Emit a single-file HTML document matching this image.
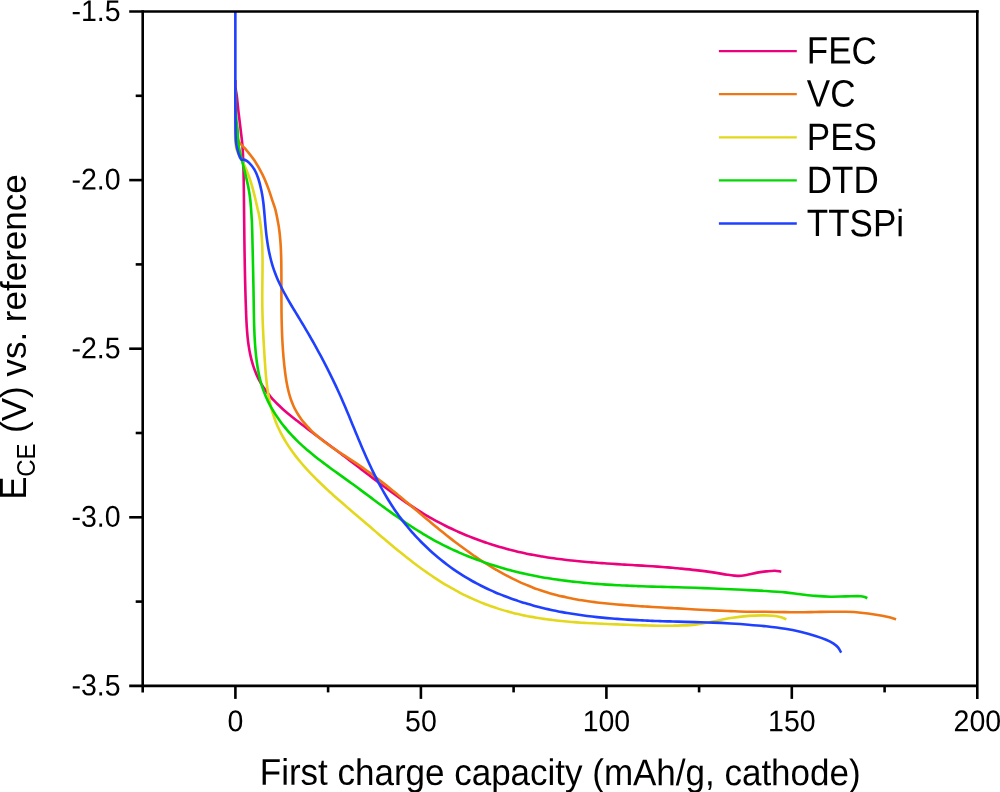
<!DOCTYPE html>
<html lang="en"><head><meta charset="utf-8"><title>First charge capacity</title>
<style>html,body{margin:0;padding:0;background:#fff;}body{width:1000px;height:792px;overflow:hidden;}svg{display:block;}text{font-family:"Liberation Sans",sans-serif;fill:#000;}</style></head><body>
<svg width="1000" height="792" viewBox="0 0 1000 792">
<rect width="1000" height="792" fill="#fff"/>
<g fill="none" stroke-width="2.6" stroke-linejoin="round" stroke-linecap="butt">
<path stroke="#ED007C" d="M235.35 80.00C235.35 81.33 235.33 82.67 235.35 84.00C235.37 85.17 235.31 86.34 235.45 87.50C235.76 90.02 236.39 92.48 236.70 95.00C237.40 100.65 237.85 106.34 238.50 112.00C239.19 118.01 239.99 124.00 240.70 130.00C241.29 135.06 241.98 140.12 242.40 145.20C242.81 150.22 243.01 155.26 243.20 160.30C243.45 167.03 243.58 173.77 243.70 180.50C243.85 188.67 243.90 196.83 244.00 205.00C244.14 216.79 244.26 228.58 244.40 240.36C244.42 242.05 244.45 243.73 244.47 245.41C244.49 247.10 244.52 248.78 244.54 250.46C244.57 252.15 244.60 253.83 244.62 255.51C244.65 257.20 244.68 258.88 244.71 260.57C244.74 262.25 244.77 263.94 244.80 265.63C244.83 267.31 244.86 269.00 244.90 270.69C244.93 272.38 244.97 274.07 245.00 275.76C245.04 277.45 245.08 279.14 245.12 280.83C245.16 282.52 245.20 284.22 245.25 285.91C245.29 287.61 245.33 289.30 245.38 291.00C245.43 292.70 245.48 294.40 245.53 296.09C245.58 297.80 245.63 299.50 245.68 301.20C245.74 302.91 245.80 304.61 245.85 306.32C245.91 308.02 245.97 309.73 246.04 311.44C246.10 313.15 246.16 314.86 246.24 316.58C246.31 318.29 246.39 320.00 246.48 321.71C246.56 323.42 246.66 325.13 246.77 326.84C246.88 328.54 247.00 330.24 247.14 331.95C247.27 333.64 247.42 335.34 247.60 337.03C247.77 338.71 247.96 340.39 248.17 342.07C248.38 343.74 248.62 345.41 248.88 347.08C249.14 348.73 249.42 350.38 249.74 352.02C250.05 353.66 250.39 355.29 250.77 356.91C251.14 358.52 251.54 360.13 251.99 361.72C252.43 363.31 252.90 364.89 253.41 366.45C253.93 368.01 254.48 369.56 255.07 371.09C255.67 372.62 256.30 374.14 256.98 375.63C257.66 377.13 258.38 378.61 259.15 380.06C259.93 381.53 260.75 382.97 261.61 384.38C262.47 385.80 263.38 387.20 264.33 388.57C265.28 389.95 266.27 391.31 267.29 392.64C268.32 393.98 269.39 395.29 270.48 396.58C271.57 397.87 272.70 399.14 273.86 400.38C275.01 401.63 276.20 402.85 277.41 404.04C278.62 405.24 279.85 406.42 281.11 407.57C282.36 408.72 283.64 409.85 284.93 410.96C286.22 412.07 287.53 413.16 288.84 414.24C290.16 415.32 291.48 416.39 292.82 417.45C294.14 418.51 295.48 419.55 296.82 420.60C298.15 421.64 299.49 422.68 300.83 423.72C302.17 424.75 303.52 425.78 304.86 426.81C306.20 427.83 307.55 428.85 308.90 429.87C310.24 430.89 311.59 431.90 312.94 432.91C314.29 433.93 315.64 434.93 316.99 435.94C318.34 436.95 319.69 437.95 321.04 438.96C322.39 439.96 323.74 440.96 325.10 441.96C326.45 442.97 327.80 443.97 329.15 444.97C330.50 445.97 331.85 446.97 333.20 447.97C334.55 448.98 335.90 449.98 337.25 450.99C338.60 451.99 339.95 453.00 341.30 454.01C342.65 455.02 343.99 456.03 345.34 457.05C346.68 458.06 348.02 459.08 349.37 460.10C350.71 461.13 352.05 462.15 353.39 463.18C354.73 464.21 356.07 465.23 357.41 466.26C358.75 467.29 360.09 468.33 361.43 469.36C362.77 470.39 364.11 471.42 365.45 472.45C366.79 473.49 368.13 474.52 369.47 475.55C370.81 476.58 372.15 477.61 373.50 478.64C374.84 479.66 376.19 480.69 377.54 481.71C378.88 482.74 380.23 483.76 381.58 484.77C382.94 485.79 384.29 486.81 385.65 487.81C387.00 488.82 388.36 489.83 389.73 490.83C391.09 491.83 392.46 492.83 393.83 493.82C395.20 494.81 396.57 495.79 397.95 496.77C399.32 497.75 400.70 498.72 402.09 499.69C403.48 500.65 404.87 501.61 406.26 502.56C407.66 503.51 409.06 504.45 410.46 505.38C411.87 506.32 413.28 507.24 414.70 508.15C416.11 509.07 417.53 509.97 418.96 510.87C420.39 511.76 421.82 512.65 423.27 513.52C424.71 514.40 426.16 515.26 427.61 516.11C429.07 516.96 430.53 517.80 432.00 518.63C433.47 519.45 434.94 520.27 436.43 521.07C437.91 521.87 439.40 522.66 440.90 523.44C442.39 524.22 443.90 524.98 445.41 525.74C446.92 526.49 448.43 527.23 449.96 527.96C451.48 528.69 453.01 529.41 454.54 530.11C456.08 530.82 457.62 531.51 459.17 532.19C460.71 532.87 462.26 533.54 463.82 534.19C465.38 534.85 466.94 535.49 468.51 536.12C470.08 536.75 471.65 537.37 473.22 537.98C474.80 538.59 476.38 539.18 477.97 539.77C479.56 540.35 481.15 540.92 482.74 541.48C484.34 542.04 485.94 542.59 487.54 543.12C489.15 543.66 490.75 544.18 492.36 544.69C493.98 545.20 495.59 545.70 497.21 546.18C498.83 546.67 500.45 547.15 502.07 547.61C503.70 548.07 505.33 548.52 506.96 548.96C508.59 549.40 510.22 549.83 511.86 550.24C513.49 550.66 515.13 551.06 516.77 551.45C518.41 551.84 520.06 552.22 521.70 552.59C523.35 552.95 524.99 553.31 526.64 553.65C528.29 554.00 529.94 554.33 531.60 554.65C533.25 554.97 534.90 555.28 536.56 555.58C538.22 555.88 539.87 556.16 541.53 556.44C543.19 556.72 544.85 556.99 546.52 557.25C548.18 557.51 549.84 557.75 551.51 557.99C553.17 558.24 554.84 558.47 556.51 558.69C558.18 558.91 559.85 559.13 561.52 559.33C563.19 559.54 564.86 559.74 566.53 559.93C568.20 560.13 569.88 560.31 571.55 560.49C573.23 560.67 574.90 560.84 576.58 561.00C578.26 561.17 579.94 561.33 581.62 561.48C583.30 561.64 584.98 561.79 586.66 561.93C588.34 562.08 590.02 562.21 591.70 562.35C593.38 562.48 595.07 562.61 596.75 562.74C598.43 562.87 600.12 562.99 601.80 563.11C603.49 563.23 605.17 563.35 606.86 563.46C608.54 563.57 610.23 563.68 611.92 563.79C613.60 563.90 615.29 564.01 616.98 564.11C618.66 564.22 620.35 564.32 622.04 564.43C623.73 564.53 625.41 564.63 627.10 564.73C628.79 564.84 630.48 564.94 632.17 565.04C633.86 565.14 635.54 565.24 637.23 565.34C638.92 565.45 640.61 565.55 642.30 565.65C643.98 565.76 645.67 565.86 647.36 565.97C649.05 566.08 650.74 566.19 652.42 566.30C654.11 566.42 655.80 566.53 657.48 566.65C659.17 566.77 660.86 566.89 662.54 567.01C664.23 567.14 665.91 567.26 667.60 567.40C669.28 567.53 670.97 567.66 672.65 567.81C674.33 567.95 676.02 568.07 677.70 568.24C683.60 568.84 689.51 569.41 695.40 570.10C701.28 570.79 707.14 571.55 713.00 572.40C717.75 573.09 722.46 573.98 727.20 574.70C729.53 575.05 731.85 575.42 734.20 575.60C736.56 575.78 738.94 575.98 741.30 575.80C743.70 575.61 746.04 574.97 748.40 574.50C751.34 573.91 754.24 573.12 757.20 572.60C760.15 572.08 763.12 571.72 766.10 571.40C769.03 571.09 771.96 570.64 774.90 570.70C777.06 570.74 779.17 571.37 781.30 571.70"/>
<path stroke="#EE7614" d="M235.35 90.00C235.35 92.00 235.35 94.00 235.35 96.00C235.35 97.33 235.32 98.67 235.35 100.00C235.51 108.33 235.47 116.68 235.90 125.00C236.09 128.69 236.52 132.37 237.20 136.00C237.59 138.09 237.96 140.30 239.10 142.10C240.70 144.63 243.28 146.40 245.20 148.70C248.35 152.47 251.57 156.22 254.30 160.30C257.31 164.80 259.98 169.55 262.40 174.40C264.69 179.00 266.57 183.80 268.40 188.60C269.87 192.47 271.00 196.47 272.30 200.40C273.37 203.63 274.67 206.80 275.50 210.10C276.76 215.10 277.61 220.20 278.56 225.27C278.87 226.93 279.06 228.60 279.27 230.27C279.49 231.94 279.68 233.61 279.86 235.29C280.03 236.97 280.18 238.65 280.32 240.33C280.45 242.02 280.57 243.71 280.68 245.39C280.78 247.08 280.87 248.77 280.94 250.47C281.02 252.16 281.08 253.85 281.13 255.55C281.18 257.24 281.22 258.94 281.26 260.63C281.29 262.33 281.31 264.03 281.33 265.72C281.35 267.42 281.36 269.11 281.37 270.81C281.38 272.50 281.39 274.20 281.39 275.89C281.40 277.58 281.40 279.27 281.40 280.96C281.40 282.65 281.40 284.34 281.41 286.03C281.41 287.72 281.41 289.40 281.41 291.09C281.41 292.77 281.41 294.46 281.42 296.14C281.42 297.82 281.43 299.50 281.44 301.19C281.44 302.87 281.45 304.55 281.47 306.23C281.48 307.91 281.50 309.59 281.51 311.26C281.53 312.94 281.56 314.62 281.58 316.30C281.61 317.98 281.64 319.65 281.68 321.33C281.72 323.01 281.76 324.69 281.81 326.36C281.86 328.04 281.91 329.72 281.97 331.39C282.03 333.07 282.10 334.75 282.17 336.42C282.24 338.10 282.32 339.78 282.41 341.45C282.50 343.13 282.60 344.81 282.71 346.49C282.81 348.17 282.93 349.84 283.05 351.52C283.18 353.20 283.31 354.88 283.45 356.56C283.60 358.24 283.75 359.92 283.92 361.60C284.08 363.29 284.26 364.97 284.45 366.65C284.64 368.34 284.83 370.02 285.05 371.71C285.26 373.39 285.48 375.08 285.73 376.76C285.98 378.44 286.24 380.12 286.53 381.79C286.82 383.46 287.14 385.13 287.48 386.79C287.83 388.44 288.21 390.08 288.62 391.72C289.04 393.35 289.48 394.97 289.98 396.57C290.47 398.17 291.00 399.76 291.59 401.32C292.17 402.88 292.80 404.43 293.49 405.95C294.18 407.47 294.91 408.97 295.71 410.44C296.51 411.91 297.36 413.36 298.26 414.77C299.17 416.19 300.12 417.57 301.11 418.93C302.11 420.29 303.15 421.62 304.22 422.91C305.29 424.21 306.40 425.47 307.54 426.71C308.68 427.94 309.85 429.15 311.04 430.32C312.23 431.50 313.46 432.65 314.70 433.77C315.95 434.89 317.22 435.99 318.50 437.07C319.79 438.14 321.11 439.20 322.43 440.23C323.76 441.27 325.11 442.29 326.46 443.29C327.82 444.30 329.20 445.28 330.58 446.26C331.97 447.23 333.37 448.20 334.77 449.15C336.18 450.11 337.59 451.05 339.01 451.99C340.43 452.93 341.85 453.86 343.28 454.79C344.70 455.73 346.13 456.65 347.56 457.58C348.99 458.51 350.42 459.44 351.84 460.38C353.26 461.31 354.68 462.25 356.10 463.19C357.51 464.14 358.91 465.09 360.31 466.05C361.71 467.01 363.09 467.98 364.48 468.95C365.85 469.93 367.23 470.91 368.59 471.91C369.96 472.90 371.32 473.90 372.67 474.90C374.02 475.91 375.36 476.92 376.70 477.94C378.04 478.96 379.38 479.98 380.70 481.01C382.03 482.04 383.35 483.08 384.67 484.12C385.99 485.16 387.30 486.20 388.61 487.25C389.92 488.30 391.22 489.36 392.53 490.42C393.83 491.47 395.12 492.54 396.42 493.60C397.71 494.67 399.01 495.73 400.30 496.80C401.58 497.87 402.87 498.95 404.16 500.02C405.44 501.10 406.73 502.18 408.01 503.26C409.29 504.33 410.57 505.42 411.86 506.50C413.14 507.58 414.42 508.66 415.70 509.74C416.98 510.82 418.26 511.91 419.54 512.99C420.83 514.07 422.11 515.15 423.39 516.23C424.68 517.32 425.96 518.40 427.25 519.47C428.54 520.55 429.83 521.63 431.12 522.71C432.41 523.78 433.71 524.85 435.01 525.92C436.31 527.00 437.61 528.06 438.91 529.13C440.22 530.19 441.53 531.26 442.84 532.31C444.15 533.37 445.47 534.43 446.79 535.47C448.12 536.52 449.45 537.57 450.78 538.61C452.11 539.65 453.45 540.69 454.80 541.71C456.14 542.74 457.49 543.77 458.85 544.79C460.21 545.80 461.57 546.81 462.94 547.82C464.31 548.82 465.68 549.82 467.06 550.81C468.44 551.80 469.82 552.78 471.21 553.75C472.61 554.72 474.00 555.69 475.41 556.64C476.81 557.60 478.22 558.55 479.63 559.48C481.05 560.42 482.47 561.34 483.90 562.26C485.32 563.17 486.75 564.08 488.19 564.97C489.63 565.87 491.08 566.75 492.53 567.62C493.98 568.49 495.43 569.35 496.90 570.19C498.36 571.04 499.83 571.87 501.31 572.69C502.78 573.51 504.26 574.31 505.75 575.10C507.24 575.90 508.73 576.67 510.23 577.44C511.73 578.20 513.24 578.95 514.75 579.68C516.26 580.41 517.78 581.12 519.31 581.83C520.83 582.52 522.36 583.21 523.90 583.88C525.44 584.54 526.98 585.19 528.53 585.82C530.08 586.45 531.64 587.07 533.20 587.66C534.77 588.26 536.34 588.84 537.91 589.40C539.49 589.95 541.07 590.49 542.66 591.01C544.25 591.53 545.85 592.03 547.45 592.51C549.05 593.00 550.66 593.46 552.27 593.91C553.88 594.36 555.50 594.78 557.13 595.20C558.75 595.61 560.38 596.01 562.01 596.39C563.65 596.77 565.28 597.14 566.93 597.49C568.57 597.84 570.22 598.18 571.87 598.50C573.52 598.82 575.17 599.13 576.83 599.43C578.49 599.73 580.15 600.01 581.81 600.28C583.48 600.55 585.15 600.81 586.82 601.06C588.49 601.31 590.16 601.54 591.84 601.77C593.52 602.00 595.19 602.21 596.87 602.42C598.56 602.63 600.24 602.82 601.92 603.01C603.61 603.20 605.29 603.38 606.98 603.55C608.67 603.73 610.35 603.89 612.04 604.05C613.73 604.21 615.42 604.36 617.11 604.50C618.80 604.65 620.49 604.79 622.18 604.92C623.87 605.05 625.56 605.18 627.26 605.31C628.95 605.43 630.64 605.55 632.33 605.67C634.01 605.79 635.70 605.90 637.39 606.01C639.08 606.12 640.76 606.23 642.45 606.34C644.13 606.44 645.82 606.55 647.50 606.65C649.18 606.75 650.86 606.86 652.55 606.96C654.23 607.06 655.91 607.16 657.59 607.25C659.26 607.35 660.94 607.45 662.62 607.55C664.30 607.64 665.97 607.74 667.65 607.83C669.33 607.93 671.01 608.02 672.68 608.12C674.36 608.21 676.04 608.29 677.71 608.40C683.61 608.76 689.50 609.17 695.40 609.50C701.26 609.83 707.13 610.13 713.00 610.40C718.90 610.67 724.80 610.88 730.70 611.10C736.60 611.32 742.50 611.58 748.40 611.70C754.30 611.82 760.20 611.74 766.10 611.80C772.47 611.87 778.83 612.01 785.20 612.10C790.23 612.17 795.27 612.32 800.30 612.30C805.37 612.28 810.43 612.10 815.50 612.00C820.53 611.90 825.57 611.73 830.60 611.70C835.67 611.67 840.74 611.63 845.80 611.80C850.84 611.97 855.88 612.22 860.90 612.70C865.99 613.19 871.05 613.90 876.10 614.70C880.16 615.34 884.19 616.10 888.20 617.00C890.87 617.60 893.47 618.47 896.10 619.20"/>
<path stroke="#E3D81C" d="M235.35 90.00C235.35 92.00 235.35 94.00 235.35 96.00C235.35 97.33 235.36 98.67 235.35 100.00C235.31 110.00 235.21 120.00 235.20 130.00C235.20 133.33 235.12 136.67 235.30 140.00C235.45 142.68 235.62 145.38 236.20 148.00C236.66 150.08 237.53 152.06 238.40 154.00C239.27 155.93 240.44 157.71 241.40 159.60C243.21 163.18 245.17 166.70 246.70 170.40C248.47 174.68 249.95 179.07 251.30 183.50C252.82 188.51 254.04 193.61 255.30 198.70C256.21 202.38 256.94 206.11 257.80 209.80C258.06 210.92 258.43 212.01 258.67 213.13C259.02 214.77 259.31 216.42 259.59 218.08C259.87 219.73 260.11 221.39 260.34 223.06C260.57 224.72 260.77 226.39 260.95 228.06C261.13 229.73 261.29 231.40 261.44 233.07C261.58 234.75 261.71 236.43 261.82 238.10C261.93 239.78 262.03 241.46 262.11 243.15C262.19 244.83 262.26 246.51 262.31 248.20C262.37 249.89 262.41 251.57 262.44 253.26C262.48 254.95 262.50 256.64 262.52 258.33C262.53 260.02 262.54 261.71 262.54 263.40C262.54 265.10 262.53 266.79 262.52 268.48C262.51 270.17 262.50 271.87 262.48 273.56C262.46 275.25 262.44 276.94 262.42 278.64C262.40 280.33 262.38 282.02 262.36 283.71C262.34 285.40 262.32 287.10 262.30 288.79C262.29 290.48 262.27 292.17 262.27 293.85C262.26 295.54 262.26 297.23 262.26 298.92C262.26 300.60 262.27 302.28 262.29 303.97C262.31 305.65 262.33 307.33 262.37 309.01C262.40 310.69 262.43 312.37 262.48 314.05C262.52 315.73 262.57 317.40 262.63 319.08C262.68 320.76 262.74 322.43 262.81 324.11C262.87 325.78 262.94 327.46 263.02 329.14C263.09 330.81 263.17 332.49 263.25 334.16C263.34 335.84 263.43 337.52 263.52 339.19C263.61 340.87 263.70 342.55 263.80 344.23C263.89 345.91 263.99 347.58 264.09 349.26C264.20 350.95 264.30 352.63 264.41 354.31C264.51 355.99 264.62 357.68 264.73 359.36C264.84 361.05 264.95 362.74 265.07 364.42C265.19 366.11 265.31 367.80 265.44 369.49C265.57 371.17 265.71 372.86 265.86 374.55C266.01 376.23 266.16 377.91 266.34 379.60C266.52 381.28 266.70 382.95 266.91 384.63C267.11 386.30 267.33 387.98 267.58 389.64C267.82 391.31 268.08 392.97 268.37 394.63C268.65 396.28 268.96 397.94 269.29 399.58C269.63 401.23 269.98 402.86 270.37 404.50C270.76 406.13 271.18 407.75 271.62 409.36C272.07 410.98 272.55 412.59 273.07 414.18C273.58 415.78 274.13 417.37 274.71 418.94C275.29 420.52 275.90 422.08 276.54 423.64C277.19 425.19 277.86 426.73 278.57 428.26C279.27 429.79 280.00 431.30 280.77 432.80C281.53 434.30 282.32 435.78 283.14 437.25C283.96 438.72 284.81 440.17 285.68 441.61C286.55 443.04 287.45 444.46 288.37 445.87C289.30 447.27 290.25 448.66 291.21 450.03C292.18 451.41 293.17 452.77 294.18 454.11C295.20 455.46 296.23 456.79 297.28 458.10C298.33 459.42 299.39 460.72 300.48 462.02C301.56 463.31 302.66 464.58 303.77 465.85C304.88 467.12 306.01 468.37 307.15 469.61C308.29 470.86 309.44 472.09 310.60 473.31C311.76 474.53 312.93 475.74 314.11 476.94C315.29 478.14 316.48 479.33 317.68 480.52C318.88 481.70 320.09 482.87 321.30 484.04C322.51 485.20 323.74 486.36 324.96 487.51C326.19 488.66 327.43 489.80 328.67 490.94C329.91 492.08 331.16 493.21 332.41 494.33C333.66 495.46 334.92 496.58 336.18 497.69C337.44 498.81 338.70 499.92 339.97 501.03C341.24 502.14 342.51 503.24 343.79 504.34C345.06 505.44 346.34 506.54 347.62 507.64C348.90 508.73 350.18 509.83 351.46 510.92C352.74 512.01 354.02 513.11 355.31 514.20C356.59 515.29 357.87 516.38 359.15 517.48C360.43 518.57 361.71 519.66 362.99 520.76C364.27 521.85 365.55 522.95 366.83 524.05C368.11 525.14 369.39 526.24 370.66 527.34C371.94 528.44 373.22 529.53 374.50 530.63C375.77 531.72 377.05 532.82 378.33 533.91C379.61 535.01 380.89 536.10 382.17 537.19C383.45 538.28 384.74 539.37 386.02 540.46C387.31 541.54 388.59 542.63 389.88 543.71C391.17 544.79 392.46 545.86 393.76 546.94C395.05 548.01 396.35 549.08 397.65 550.14C398.95 551.21 400.26 552.27 401.57 553.32C402.88 554.38 404.19 555.43 405.51 556.47C406.82 557.52 408.14 558.56 409.47 559.59C410.80 560.62 412.13 561.65 413.47 562.67C414.80 563.69 416.15 564.70 417.49 565.70C418.84 566.71 420.20 567.71 421.56 568.69C422.92 569.68 424.29 570.66 425.66 571.64C427.04 572.61 428.42 573.57 429.80 574.52C431.19 575.48 432.59 576.42 433.99 577.35C435.39 578.28 436.80 579.21 438.22 580.11C439.64 581.02 441.06 581.92 442.50 582.81C443.93 583.69 445.37 584.57 446.82 585.42C448.27 586.28 449.73 587.13 451.20 587.96C452.67 588.79 454.14 589.61 455.62 590.41C457.11 591.22 458.60 592.00 460.10 592.78C461.60 593.55 463.11 594.31 464.62 595.05C466.13 595.80 467.66 596.53 469.18 597.24C470.71 597.95 472.25 598.65 473.79 599.34C475.33 600.02 476.88 600.69 478.44 601.34C479.99 601.99 481.55 602.62 483.12 603.24C484.69 603.86 486.26 604.46 487.84 605.05C489.42 605.64 491.00 606.21 492.59 606.76C494.18 607.31 495.78 607.85 497.38 608.37C498.97 608.89 500.58 609.39 502.19 609.88C503.79 610.36 505.41 610.83 507.02 611.28C508.64 611.73 510.26 612.17 511.88 612.59C513.51 613.00 515.13 613.41 516.77 613.79C518.40 614.18 520.03 614.55 521.67 614.91C523.31 615.26 524.95 615.60 526.60 615.93C528.24 616.26 529.89 616.57 531.54 616.87C533.19 617.18 534.85 617.46 536.50 617.74C538.16 618.01 539.82 618.28 541.48 618.53C543.14 618.78 544.81 619.02 546.47 619.25C548.14 619.47 549.81 619.69 551.48 619.90C553.15 620.11 554.82 620.30 556.50 620.49C558.17 620.68 559.85 620.86 561.53 621.03C563.21 621.20 564.89 621.36 566.57 621.51C568.25 621.66 569.93 621.81 571.61 621.94C573.30 622.08 574.98 622.21 576.67 622.33C578.35 622.46 580.04 622.57 581.73 622.68C583.42 622.80 585.10 622.90 586.79 623.00C588.48 623.10 590.17 623.20 591.86 623.29C593.55 623.38 595.24 623.47 596.93 623.55C598.62 623.63 600.31 623.71 601.99 623.79C603.68 623.87 605.37 623.94 607.06 624.01C608.75 624.08 610.44 624.15 612.13 624.22C613.81 624.29 615.50 624.36 617.19 624.42C618.87 624.49 620.56 624.55 622.24 624.62C623.93 624.69 625.61 624.75 627.29 624.82C628.98 624.88 630.66 624.94 632.34 625.01C634.02 625.07 635.70 625.13 637.38 625.18C639.06 625.24 640.74 625.29 642.42 625.35C644.10 625.40 645.78 625.44 647.46 625.49C649.13 625.53 650.81 625.57 652.49 625.60C654.17 625.63 655.85 625.66 657.53 625.68C659.21 625.70 660.89 625.72 662.57 625.73C664.25 625.73 665.93 625.74 667.61 625.73C669.29 625.72 670.97 625.71 672.65 625.69C674.33 625.66 676.02 625.67 677.70 625.59C683.60 625.31 689.53 625.26 695.40 624.60C701.31 623.93 707.15 622.69 713.00 621.60C718.92 620.49 724.76 618.96 730.70 618.00C736.57 617.06 742.48 616.38 748.40 615.90C753.09 615.52 757.80 615.44 762.50 615.40C766.03 615.37 769.58 615.38 773.10 615.70C775.50 615.92 777.88 616.37 780.20 617.00C782.33 617.58 784.33 618.53 786.40 619.30"/>
<path stroke="#00D800" d="M235.35 90.00C235.35 92.00 235.35 94.00 235.35 96.00C235.35 97.33 235.29 98.67 235.35 100.00C235.64 106.67 235.90 113.34 236.40 120.00C236.65 123.35 237.31 126.66 237.60 130.00C238.04 135.06 237.90 140.17 238.60 145.20C239.27 149.97 240.60 154.61 241.70 159.30C242.80 164.02 244.08 168.69 245.20 173.40C246.25 177.79 247.35 182.17 248.20 186.60C249.05 191.04 249.82 195.50 250.30 200.00C251.02 206.71 251.36 213.46 251.82 220.20C251.94 221.88 251.96 223.57 252.03 225.26C252.09 226.95 252.14 228.63 252.19 230.32C252.23 232.01 252.28 233.69 252.32 235.38C252.36 237.06 252.40 238.75 252.43 240.43C252.47 242.12 252.51 243.80 252.55 245.48C252.59 247.16 252.63 248.85 252.67 250.53C252.71 252.21 252.74 253.89 252.78 255.57C252.82 257.25 252.86 258.92 252.90 260.60C252.93 262.28 252.97 263.96 253.01 265.64C253.05 267.32 253.08 269.00 253.12 270.68C253.16 272.35 253.19 274.03 253.23 275.71C253.26 277.39 253.29 279.07 253.33 280.75C253.36 282.44 253.39 284.12 253.43 285.80C253.46 287.48 253.49 289.17 253.52 290.85C253.55 292.54 253.58 294.22 253.60 295.91C253.63 297.60 253.66 299.28 253.68 300.97C253.71 302.67 253.73 304.36 253.76 306.05C253.78 307.74 253.81 309.44 253.83 311.13C253.86 312.83 253.89 314.52 253.92 316.22C253.96 317.92 253.99 319.62 254.03 321.31C254.08 323.01 254.12 324.71 254.18 326.41C254.23 328.11 254.29 329.81 254.36 331.51C254.43 333.20 254.51 334.90 254.59 336.60C254.68 338.30 254.78 340.00 254.88 341.69C254.99 343.39 255.11 345.09 255.24 346.78C255.38 348.48 255.52 350.17 255.68 351.86C255.84 353.55 256.01 355.25 256.20 356.94C256.39 358.62 256.60 360.31 256.83 361.99C257.05 363.68 257.30 365.35 257.57 367.03C257.84 368.70 258.13 370.37 258.45 372.03C258.77 373.68 259.11 375.33 259.49 376.97C259.87 378.61 260.27 380.24 260.71 381.86C261.15 383.47 261.62 385.08 262.13 386.67C262.64 388.26 263.19 389.83 263.77 391.39C264.35 392.95 264.97 394.50 265.62 396.03C266.27 397.56 266.96 399.08 267.68 400.58C268.40 402.08 269.15 403.56 269.93 405.03C270.71 406.50 271.52 407.96 272.36 409.40C273.20 410.84 274.07 412.26 274.97 413.67C275.87 415.08 276.79 416.47 277.74 417.84C278.69 419.22 279.67 420.58 280.67 421.92C281.67 423.27 282.69 424.59 283.74 425.90C284.79 427.22 285.86 428.51 286.95 429.79C288.04 431.07 289.15 432.33 290.28 433.58C291.41 434.82 292.57 436.05 293.73 437.26C294.90 438.48 296.09 439.67 297.29 440.85C298.49 442.03 299.71 443.19 300.94 444.34C302.18 445.48 303.43 446.61 304.69 447.73C305.95 448.85 307.22 449.95 308.51 451.04C309.79 452.13 311.09 453.21 312.40 454.28C313.71 455.35 315.03 456.41 316.36 457.45C317.68 458.50 319.02 459.54 320.36 460.57C321.71 461.60 323.06 462.62 324.41 463.64C325.77 464.66 327.14 465.67 328.50 466.67C329.87 467.68 331.24 468.68 332.62 469.68C333.99 470.67 335.37 471.67 336.75 472.66C338.13 473.65 339.51 474.64 340.89 475.63C342.27 476.62 343.65 477.61 345.03 478.60C346.41 479.59 347.79 480.58 349.17 481.58C350.54 482.57 351.92 483.57 353.29 484.57C354.65 485.57 356.02 486.57 357.38 487.57C358.75 488.58 360.11 489.59 361.47 490.59C362.83 491.60 364.19 492.61 365.54 493.62C366.90 494.63 368.25 495.64 369.61 496.64C370.96 497.65 372.32 498.66 373.67 499.67C375.02 500.68 376.38 501.68 377.73 502.69C379.09 503.69 380.44 504.69 381.80 505.69C383.15 506.69 384.51 507.69 385.87 508.68C387.22 509.67 388.58 510.66 389.95 511.65C391.31 512.63 392.67 513.61 394.04 514.59C395.41 515.56 396.78 516.53 398.15 517.50C399.52 518.46 400.90 519.42 402.28 520.37C403.66 521.32 405.05 522.27 406.44 523.21C407.83 524.14 409.22 525.08 410.62 526.00C412.02 526.92 413.43 527.83 414.84 528.74C416.25 529.64 417.66 530.54 419.09 531.42C420.51 532.31 421.94 533.19 423.37 534.05C424.81 534.92 426.25 535.77 427.70 536.62C429.15 537.46 430.61 538.29 432.08 539.11C433.54 539.93 435.02 540.74 436.50 541.54C437.98 542.33 439.47 543.12 440.96 543.89C442.46 544.66 443.96 545.42 445.47 546.17C446.99 546.92 448.50 547.65 450.03 548.38C451.55 549.10 453.08 549.82 454.62 550.52C456.16 551.22 457.70 551.91 459.25 552.58C460.80 553.26 462.35 553.93 463.91 554.58C465.48 555.24 467.04 555.88 468.61 556.51C470.19 557.14 471.76 557.76 473.34 558.37C474.93 558.97 476.51 559.57 478.10 560.15C479.69 560.74 481.29 561.31 482.89 561.87C484.49 562.43 486.09 562.98 487.70 563.52C489.31 564.06 490.92 564.58 492.54 565.10C494.15 565.61 495.77 566.11 497.39 566.61C499.02 567.10 500.64 567.58 502.27 568.05C503.90 568.52 505.53 568.98 507.16 569.42C508.79 569.87 510.43 570.30 512.07 570.73C513.71 571.15 515.35 571.56 516.99 571.96C518.63 572.37 520.27 572.75 521.92 573.13C523.57 573.51 525.21 573.88 526.86 574.24C528.51 574.59 530.16 574.94 531.81 575.27C533.46 575.61 535.11 575.93 536.77 576.25C538.42 576.56 540.08 576.87 541.74 577.16C543.39 577.46 545.05 577.75 546.71 578.02C548.37 578.30 550.03 578.56 551.69 578.82C553.35 579.08 555.01 579.33 556.68 579.57C558.34 579.81 560.01 580.04 561.67 580.27C563.34 580.49 565.01 580.71 566.67 580.91C568.34 581.12 570.01 581.32 571.68 581.51C573.35 581.71 575.02 581.89 576.70 582.07C578.37 582.25 580.04 582.42 581.71 582.58C583.39 582.75 585.06 582.90 586.74 583.06C588.41 583.21 590.09 583.35 591.77 583.49C593.45 583.63 595.12 583.76 596.80 583.89C598.48 584.02 600.16 584.14 601.84 584.26C603.52 584.37 605.20 584.49 606.88 584.59C608.56 584.70 610.24 584.80 611.93 584.90C613.61 585.00 615.29 585.09 616.97 585.18C618.66 585.27 620.34 585.36 622.03 585.44C623.71 585.52 625.40 585.60 627.08 585.67C628.77 585.75 630.45 585.82 632.14 585.89C633.82 585.95 635.51 586.02 637.20 586.08C638.88 586.15 640.57 586.21 642.26 586.27C643.94 586.32 645.63 586.38 647.32 586.43C649.00 586.49 650.69 586.54 652.38 586.59C654.07 586.64 655.76 586.69 657.44 586.74C659.13 586.79 660.82 586.84 662.51 586.89C664.19 586.93 665.88 586.98 667.57 587.03C669.26 587.07 670.95 587.12 672.63 587.16C674.32 587.21 676.01 587.26 677.70 587.30C683.60 587.47 689.50 587.60 695.40 587.80C701.27 588.00 707.13 588.27 713.00 588.50C718.90 588.73 724.80 588.93 730.70 589.20C736.60 589.47 742.50 589.80 748.40 590.10C754.30 590.40 760.20 590.63 766.10 591.00C772.47 591.40 778.84 591.81 785.20 592.40C790.25 592.87 795.26 593.62 800.30 594.20C805.36 594.79 810.42 595.48 815.50 595.90C820.52 596.31 825.56 596.62 830.60 596.70C835.67 596.78 840.73 596.48 845.80 596.40C850.83 596.32 855.87 596.04 860.90 596.20C862.19 596.24 863.46 596.61 864.70 597.00C865.61 597.28 866.43 597.80 867.30 598.20"/>
<path stroke="#1F40FF" d="M235.35 11.50C235.35 34.33 235.35 57.17 235.35 80.00C235.35 84.00 235.35 88.00 235.35 92.00C235.35 94.67 235.34 97.33 235.35 100.00C235.39 110.00 235.33 120.00 235.50 130.00C235.58 134.37 235.59 138.76 236.10 143.10C236.46 146.18 237.17 149.24 238.10 152.20C238.88 154.66 239.51 157.35 241.20 159.30C241.97 160.19 243.62 159.33 244.70 159.80C246.35 160.52 247.93 161.53 249.20 162.80C251.17 164.77 252.91 166.99 254.30 169.40C255.96 172.27 257.25 175.36 258.30 178.50C259.62 182.45 260.53 186.53 261.40 190.60C262.17 194.20 262.72 197.85 263.20 201.50C263.71 205.36 264.01 209.24 264.39 213.11C264.55 214.79 264.67 216.48 264.82 218.16C264.96 219.84 265.09 221.53 265.24 223.21C265.39 224.89 265.53 226.57 265.69 228.25C265.86 229.93 266.03 231.60 266.22 233.28C266.40 234.95 266.61 236.62 266.83 238.29C267.05 239.95 267.29 241.61 267.55 243.27C267.80 244.92 268.08 246.57 268.38 248.21C268.68 249.85 269.00 251.49 269.35 253.12C269.69 254.75 270.06 256.37 270.46 257.99C270.86 259.60 271.28 261.21 271.73 262.81C272.18 264.40 272.66 265.99 273.17 267.57C273.69 269.15 274.23 270.72 274.80 272.27C275.38 273.83 275.99 275.38 276.62 276.91C277.26 278.45 277.92 279.98 278.61 281.49C279.30 283.01 280.02 284.52 280.76 286.02C281.49 287.52 282.25 289.01 283.03 290.50C283.81 291.99 284.61 293.47 285.41 294.94C286.22 296.42 287.05 297.88 287.89 299.35C288.72 300.81 289.57 302.27 290.42 303.73C291.28 305.19 292.14 306.64 293.01 308.09C293.88 309.54 294.76 310.98 295.63 312.43C296.51 313.88 297.39 315.32 298.26 316.77C299.14 318.21 300.02 319.66 300.90 321.10C301.77 322.55 302.64 324.00 303.51 325.45C304.37 326.90 305.23 328.35 306.09 329.80C306.95 331.25 307.80 332.71 308.64 334.17C309.49 335.62 310.33 337.08 311.16 338.54C312.00 340.00 312.83 341.47 313.65 342.93C314.48 344.40 315.29 345.87 316.11 347.34C316.92 348.81 317.73 350.28 318.53 351.76C319.33 353.23 320.13 354.71 320.92 356.19C321.71 357.67 322.49 359.15 323.27 360.63C324.05 362.12 324.82 363.61 325.59 365.10C326.36 366.59 327.12 368.08 327.88 369.58C328.63 371.07 329.38 372.57 330.12 374.07C330.87 375.57 331.60 377.08 332.33 378.58C333.06 380.09 333.79 381.60 334.51 383.12C335.22 384.63 335.94 386.15 336.64 387.67C337.35 389.19 338.04 390.71 338.74 392.23C339.43 393.76 340.11 395.29 340.79 396.82C341.47 398.36 342.14 399.89 342.81 401.43C343.48 402.97 344.14 404.51 344.80 406.05C345.46 407.60 346.11 409.14 346.76 410.69C347.41 412.24 348.05 413.79 348.70 415.34C349.34 416.89 349.98 418.44 350.62 420.00C351.26 421.55 351.90 423.10 352.54 424.66C353.18 426.21 353.82 427.76 354.46 429.32C355.10 430.87 355.74 432.43 356.38 433.98C357.03 435.53 357.67 437.08 358.32 438.63C358.96 440.18 359.61 441.73 360.27 443.28C360.92 444.83 361.58 446.38 362.24 447.92C362.90 449.46 363.57 451.01 364.24 452.55C364.91 454.09 365.59 455.62 366.27 457.16C366.96 458.69 367.65 460.22 368.35 461.75C369.04 463.27 369.75 464.80 370.46 466.32C371.17 467.84 371.89 469.35 372.62 470.86C373.35 472.37 374.09 473.88 374.83 475.38C375.58 476.88 376.34 478.38 377.11 479.87C377.87 481.36 378.65 482.85 379.44 484.33C380.23 485.81 381.03 487.28 381.84 488.75C382.65 490.22 383.47 491.68 384.31 493.13C385.15 494.59 386.00 496.03 386.86 497.47C387.72 498.91 388.59 500.34 389.48 501.76C390.37 503.19 391.27 504.60 392.18 506.00C393.10 507.41 394.03 508.80 394.97 510.19C395.92 511.57 396.88 512.94 397.85 514.31C398.83 515.67 399.82 517.02 400.82 518.37C401.83 519.71 402.85 521.04 403.89 522.35C404.92 523.67 405.98 524.98 407.04 526.27C408.11 527.57 409.19 528.85 410.29 530.12C411.38 531.39 412.49 532.65 413.62 533.90C414.74 535.14 415.88 536.38 417.03 537.60C418.18 538.82 419.34 540.03 420.51 541.23C421.69 542.43 422.88 543.61 424.08 544.78C425.28 545.96 426.49 547.12 427.71 548.26C428.93 549.41 430.17 550.54 431.41 551.67C432.65 552.79 433.91 553.89 435.18 554.99C436.44 556.08 437.72 557.17 439.01 558.23C440.30 559.30 441.60 560.35 442.91 561.39C444.22 562.43 445.55 563.46 446.88 564.47C448.22 565.48 449.56 566.47 450.92 567.45C452.28 568.44 453.65 569.40 455.03 570.35C456.41 571.30 457.80 572.24 459.21 573.15C460.62 574.07 462.03 574.98 463.46 575.86C464.89 576.75 466.33 577.62 467.79 578.48C469.24 579.33 470.70 580.17 472.17 581.00C473.65 581.82 475.13 582.63 476.62 583.42C478.11 584.22 479.61 584.99 481.12 585.76C482.63 586.52 484.15 587.26 485.67 587.99C487.20 588.73 488.73 589.44 490.27 590.14C491.81 590.84 493.36 591.53 494.91 592.20C496.46 592.87 498.02 593.52 499.58 594.16C501.15 594.80 502.71 595.43 504.29 596.04C505.86 596.65 507.44 597.24 509.02 597.82C510.60 598.40 512.18 598.97 513.77 599.52C515.36 600.07 516.95 600.61 518.55 601.13C520.14 601.65 521.74 602.16 523.34 602.66C524.94 603.15 526.54 603.63 528.15 604.10C529.75 604.57 531.36 605.02 532.98 605.47C534.59 605.91 536.20 606.34 537.82 606.75C539.44 607.17 541.06 607.57 542.68 607.97C544.31 608.36 545.93 608.74 547.56 609.11C549.19 609.48 550.82 609.83 552.45 610.18C554.09 610.52 555.72 610.86 557.36 611.18C559.00 611.51 560.64 611.82 562.28 612.12C563.92 612.43 565.57 612.72 567.21 613.00C568.86 613.28 570.51 613.56 572.16 613.82C573.81 614.08 575.46 614.34 577.12 614.58C578.77 614.83 580.43 615.06 582.09 615.29C583.74 615.51 585.40 615.73 587.07 615.94C588.73 616.15 590.39 616.35 592.05 616.55C593.72 616.74 595.39 616.93 597.05 617.10C598.72 617.28 600.39 617.45 602.06 617.62C603.73 617.78 605.40 617.94 607.07 618.09C608.75 618.24 610.42 618.38 612.09 618.52C613.77 618.66 615.44 618.79 617.12 618.91C618.80 619.04 620.48 619.16 622.15 619.27C623.83 619.39 625.51 619.49 627.19 619.60C628.87 619.70 630.55 619.80 632.23 619.89C633.92 619.99 635.60 620.08 637.28 620.16C638.96 620.25 640.65 620.33 642.33 620.41C644.01 620.49 645.70 620.56 647.38 620.63C649.06 620.70 650.75 620.77 652.43 620.83C654.12 620.90 655.80 620.96 657.49 621.02C659.17 621.07 660.86 621.13 662.54 621.18C664.23 621.24 665.91 621.29 667.59 621.34C669.28 621.39 670.96 621.44 672.65 621.49C674.33 621.54 676.01 621.58 677.70 621.63C683.60 621.79 689.50 621.94 695.40 622.10C701.27 622.26 707.14 622.37 713.00 622.60C718.90 622.83 724.80 623.15 730.70 623.50C736.60 623.85 742.50 624.23 748.40 624.70C754.31 625.17 760.21 625.64 766.10 626.30C772.48 627.01 778.86 627.78 785.20 628.80C790.27 629.61 795.30 630.63 800.30 631.80C805.41 633.00 810.48 634.36 815.50 635.90C819.09 637.00 822.65 638.23 826.10 639.70C828.69 640.80 831.25 642.05 833.60 643.60C835.31 644.73 836.88 646.12 838.20 647.70C839.45 649.19 840.20 651.03 841.20 652.70"/>
</g>
<g stroke="#000" stroke-width="2.6" fill="none" stroke-linecap="butt">
<path d="M129.2 11.5H978.6"/>
<path d="M977.3 10.2V698.9"/>
<path d="M142.7 10.2V692.4"/>
<path d="M129.2 685.9H977.3"/>
<path d="M129.2 180.1H142.7"/>
<path d="M129.2 348.7H142.7"/>
<path d="M129.2 517.3H142.7"/>
<path d="M135.7 95.8H142.7"/>
<path d="M135.7 264.4H142.7"/>
<path d="M135.7 433.0H142.7"/>
<path d="M135.7 601.6H142.7"/>
<path d="M235.4 685.9V698.9"/>
<path d="M420.9 685.9V698.9"/>
<path d="M606.4 685.9V698.9"/>
<path d="M791.8 685.9V698.9"/>
<path d="M328.1 685.9V692.4"/>
<path d="M513.6 685.9V692.4"/>
<path d="M699.1 685.9V692.4"/>
<path d="M884.6 685.9V692.4"/>
</g>
<g font-size="28.5px">
<text transform="translate(120.6 21.0) rotate(0.05) scale(1 1.05)" text-anchor="end">-1.5</text>
<text transform="translate(120.6 189.6) rotate(0.05) scale(1 1.05)" text-anchor="end">-2.0</text>
<text transform="translate(120.6 358.2) rotate(0.05) scale(1 1.05)" text-anchor="end">-2.5</text>
<text transform="translate(120.6 526.8) rotate(0.05) scale(1 1.05)" text-anchor="end">-3.0</text>
<text transform="translate(120.6 695.4) rotate(0.05) scale(1 1.05)" text-anchor="end">-3.5</text>
<text transform="translate(235.4 731.2) rotate(0.05) scale(1 1.05)" text-anchor="middle">0</text>
<text transform="translate(420.9 731.2) rotate(0.05) scale(1 1.05)" text-anchor="middle">50</text>
<text transform="translate(606.4 731.2) rotate(0.05) scale(1 1.05)" text-anchor="middle">100</text>
<text transform="translate(791.8 731.2) rotate(0.05) scale(1 1.05)" text-anchor="middle">150</text>
<text transform="translate(977.3 731.2) rotate(0.05) scale(1 1.05)" text-anchor="middle">200</text>
</g>
<text transform="translate(259.8 784.8) rotate(0.05) scale(1 1.06)" font-size="35px">First charge capacity (mAh/g, cathode)</text>
<g transform="translate(26.2 500.1) rotate(-90)" font-size="35px"><text transform="translate(0.6 0) scale(0.98 1.07)">E</text><text transform="translate(23.35 8.8) scale(0.98 1.06)" font-size="24.5px">CE</text><text x="67.11" y="0">(V) vs. reference</text></g>
<g stroke-width="2.3" fill="none">
<path stroke="#ED007C" d="M718.9 51.05H796.8"/>
<path stroke="#EE7614" d="M718.9 94.05H796.8"/>
<path stroke="#E3D81C" d="M718.9 137.3H796.8"/>
<path stroke="#00D800" d="M718.9 180.3H796.8"/>
<path stroke="#1F40FF" d="M718.9 223.5H796.8"/>
</g>
<g font-size="35px">
<text transform="translate(806.8 63.6) rotate(0.05) scale(1 1.09)">FEC</text>
<text transform="translate(806.8 106.6) rotate(0.05) scale(1 1.09)">VC</text>
<text transform="translate(806.8 149.9) rotate(0.05) scale(1 1.09)">PES</text>
<text transform="translate(806.8 192.9) rotate(0.05) scale(1 1.09)">DTD</text>
<text transform="translate(806.8 236.1) rotate(0.05) scale(1 1.09)">TTSPi</text>
</g>
</svg></body></html>
